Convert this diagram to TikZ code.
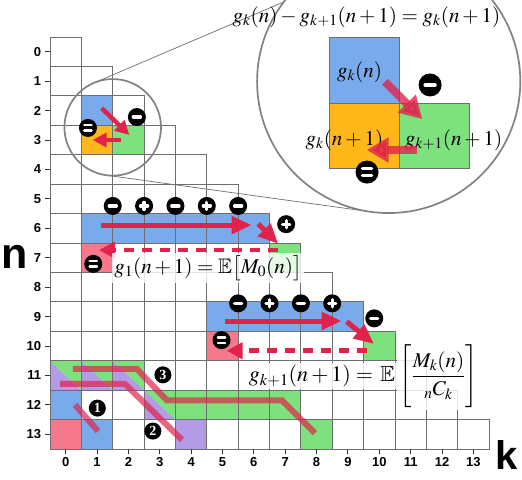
\documentclass[tikz,border=0pt]{standalone}
\usepackage{amsmath}
\usepackage{amssymb}
\usepackage{mathptmx}
\usepackage[no-math]{fontspec}
\setmainfont{Liberation Serif}
\setsansfont{Liberation Sans}
\usepackage{tikz}
\usetikzlibrary{arrows.meta}
\definecolor{cellblue}{RGB}{120,170,236}
\definecolor{cellgreen}{RGB}{125,225,125}
\definecolor{cellpink}{RGB}{245,120,140}
\definecolor{cellorange}{RGB}{255,183,25}
\definecolor{cellpurple}{RGB}{180,155,230}
\definecolor{arrowred}{RGB}{225,35,75}
\definecolor{gridgray}{RGB}{110,110,110}
\definecolor{lensgray}{RGB}{130,130,130}
\tikzset{cell/.style={draw=gridgray, line width=0.9pt},
axistick/.style={draw=black!80, line width=1pt},
axislabel/.style={font=\sffamily\bfseries\fontsize{13}{15}\selectfont},
axisname/.style={font=\sffamily\bfseries\fontsize{43}{48}\selectfont, inner sep=0pt},
eqtext/.style={font=\fontsize{21}{25}\selectfont},
eqbox/.style={fill=white, fill opacity=0.8, text opacity=1, inner sep=2pt, font=\fontsize{21}{25}\selectfont},
%signs in black discs, #1 is the disc size
sign/.style={circle, fill=black, inner sep=0pt, minimum size=#1},
signminus/.style={sign=#1, path picture={\draw[white, line width=0.18*#1, line cap=round] ([xshift=-0.2*#1]path picture bounding box.center) -- ([xshift=0.2*#1]path picture bounding box.center);}},
signminus/.default={18pt},
signplus/.style={sign=#1, path picture={\draw[white, line width=0.18*#1, line cap=round] ([xshift=-0.2*#1]path picture bounding box.center) -- ([xshift=0.2*#1]path picture bounding box.center) ([yshift=-0.2*#1]path picture bounding box.center) -- ([yshift=0.2*#1]path picture bounding box.center);}},
signplus/.default={18pt},
signeq/.style={sign=#1, path picture={\draw[white, line width=0.15*#1, line cap=round] ([xshift=-0.2*#1, yshift=0.16*#1]path picture bounding box.center) -- ([xshift=0.2*#1, yshift=0.16*#1]path picture bounding box.center) ([xshift=-0.2*#1, yshift=-0.16*#1]path picture bounding box.center) -- ([xshift=0.2*#1, yshift=-0.16*#1]path picture bounding box.center);}},
signeq/.default={18pt},
numbadge/.style={circle, fill=black, text=white, inner sep=0pt, minimum size=17pt, font=\bfseries\fontsize{14}{14}\selectfont},
%red arrows
flowarrow/.style={arrowred, line width=5pt, -{Triangle[length=20pt, width=17pt]}},
backarrow/.style={arrowred, line width=4.5pt, dash pattern=on 10pt off 8pt, -{Triangle[length=16pt, width=16pt]}},
lensarrow/.style={arrowred, line width=4.5pt, -{Triangle[length=14pt, width=14pt]}},
bigarrow/.style={arrowred, opacity=0.8, line width=8pt, -{Triangle[length=22pt, width=24pt]}},
band/.style={arrowred, opacity=0.7, line width=6pt},
lens/.style={draw=lensgray, line width=1.7pt},
lensline/.style={draw=gridgray, line width=0.7pt}}

\begin{document}
\begin{tikzpicture}[x=31.36pt, y=-29.43pt]
\useasboundingbox (-1.5944,-1.2572) rectangle (15.051,15.019);

% coloured cells
\fill[cellblue] (1,2) rectangle ++(1,1);
\fill[cellorange] (1,3) rectangle ++(1,1);
\fill[cellgreen] (2,3) rectangle ++(1,1);
\fill[cellblue] (1,6) rectangle (7,7);
\fill[cellpink] (1,7) rectangle ++(1,1);
\fill[cellgreen] (7,7) rectangle ++(1,1);
\fill[cellblue] (5,9) rectangle (10,10);
\fill[cellpink] (5,10) rectangle ++(1,1);
\fill[cellgreen] (10,10) rectangle ++(1,1);
\foreach \c/\r in {0/11,1/11,2/11,3/12}{
  \fill[cellpurple] (\c,\r) -- (\c+1,\r+1) -- (\c,\r+1) -- cycle;
  \fill[cellgreen] (\c,\r) -- (\c+1,\r) -- (\c+1,\r+1) -- cycle;
}
\fill[cellgreen] (4,12) rectangle (8,13);
\fill[cellblue] (0,12) rectangle ++(1,1);
\fill[cellpink] (0,13) rectangle ++(1,1);
\fill[cellblue] (1,13) rectangle ++(1,1);
\fill[cellpurple] (4,13) rectangle ++(1,1);
\fill[cellgreen] (8,13) rectangle ++(1,1);

% triangle of cells
\foreach \r in {0,...,13}
  \foreach \c in {0,...,\r}
    \draw[cell] (\c,\r) rectangle ++(1,1);

%labels
\foreach \r in {0,...,13}
  \draw[axistick] (0,\r+0.5) -- (-0.16,\r+0.5) node[axislabel, anchor=east] (row\r) {\r};
\foreach \c in {0,...,13}
  \draw[axistick] (\c+0.5,14) -- (\c+0.5,14.17) node[axislabel, anchor=north] (col\c) {\c};
\node[axisname, anchor=base] (nname) at (-1.132,7.85) {n};
\node[axisname, anchor=base, font=\sffamily\bfseries\fontsize{40}{44}\selectfont] (kname) at (14.57,14.71) {k};

% zoom
\coordinate (zsmall) at (2,3.07);
\coordinate (zbig) at (10.8,1.51);
\draw[lensline] ([shift={(110:48.3pt)}]zsmall) -- ([shift={(142.8:131.6pt)}]zbig);
\draw[lensline] ([shift={(-97.8:48.3pt)}]zsmall) -- ([shift={(-97.8:131.6pt)}]zbig);
\draw[lens] (zsmall) circle[radius=48.3pt];
\draw[lens] (zbig) circle[radius=131.6pt];

\fill[cellblue] (8.897,0) rectangle (11.138,2.243);
\fill[cellorange] (8.897,2.243) rectangle (11.138,4.451);
\fill[cellgreen] (11.138,2.243) rectangle (13.361,4.451);
\draw[cell] (8.897,0) rectangle (11.138,2.243);
\draw[cell] (8.897,2.243) rectangle (11.138,4.451);
\draw[cell] (11.138,2.243) rectangle (13.361,4.451);
\node[eqtext] (rule) at (10.09,-0.68) {$g_k(n)-g_{k+1}(n+1)=g_k(n+1)$};
\node[eqtext] (gkn) at (9.87,1.19) {$g_k(n)$};
\node[eqtext] (gknext) at (9.39,3.5) {$g_k(n+1)$};
\node[eqtext] (gkone) at (12.87,3.5) {$g_{k+1}(n+1)$};
\draw[bigarrow] (10.68,1.52) -- (11.87,2.79);
\draw[bigarrow] (11.7,3.84) -- (10.1,3.84);
\node[signminus=23pt] (bigminus) at (12.12,1.63) {};
\node[signeq=23pt] (bigeq) at (10.11,4.59) {};

% small lens
\draw[lensarrow] (1.65,2.42) -- (2.53,3.33);
\draw[lensarrow] (2.25,3.5) -- (1.36,3.5);
\node[signminus] (lminus) at (2.77,2.72) {};
\node[signeq] (leq) at (1.21,3.09) {};

% k = 0
\foreach \x/\s in {2/signminus,3/signplus,4/signminus,5/signplus,6/signminus}
  \node[\s] (top\x) at (\x,5.74) {};
\draw[flowarrow] (1.62,6.39) -- (6.43,6.39);
\draw[flowarrow] (6.64,6.35) -- (7.28,7.03);
\draw[backarrow] (7.27,7.24) -- (1.56,7.24);
\node[signplus] (topplus) at (7.53,6.36) {};
\node[signeq] (topeq) at (1.38,7.71) {};
\node[eqbox] (eqone) at (5.04,7.85) {$g_1(n+1)=\mathbb{E}\bigl[M_0(n)\bigr]$};

% general k
\foreach \x/\s in {6/signminus,7/signplus,8/signminus,9/signplus}
  \node[\s] (mid\x) at (\x,9.05) {};
\draw[flowarrow] (5.58,9.65) -- (9.30,9.65);
\draw[flowarrow] (9.46,9.67) -- (10.33,10.43);
\draw[backarrow] (10.1,10.66) -- (5.63,10.66);
\node[signminus] (midminus) at (10.34,9.56) {};
\node[signeq] (mideq) at (5.47,10.3) {};
\node[eqbox, anchor=east, font=\fontsize{22}{26}\selectfont] (eqtwo) at (11.07,11.52) {$g_{k+1}(n+1)=\,\mathbb{E}$};
\node[eqbox, anchor=west] (eqfrac) at (eqtwo.east) {$\Biggl[\dfrac{M_k(n)}{{}_nC_k}\Biggr]$};

% paths
\draw[band] (0.797,12.5) -- (1.53,13.39);
\draw[band] (0.319,11.79) -- (2.39,11.79) -- (4.21,13.69);
\draw[band] (0.733,11.28) -- (2.77,11.28) -- (3.73,12.35) -- (7.4,12.35) -- (8.45,13.46);
\node[numbadge] (one) at (1.51,12.61) {1};
\node[numbadge] (two) at (3.28,13.39) {2};
\node[numbadge] (three) at (3.6,11.48) {3};

\end{tikzpicture}
\end{document}
